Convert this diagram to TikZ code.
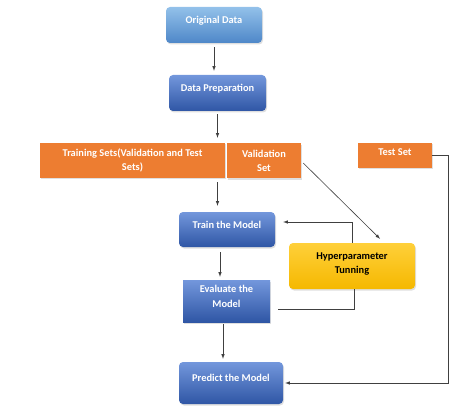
\documentclass[tikz,border=0pt]{standalone}
\usepackage{fontspec}
\setmainfont{Carlito}
\usetikzlibrary{shadows}

\definecolor{lightTop}{HTML}{93C1EA}
\definecolor{lightBot}{HTML}{4E87C8}
\definecolor{blueTop}{HTML}{7397DC}
\definecolor{blueBot}{HTML}{2F56A5}
\definecolor{orangeFill}{HTML}{ED7D31}
\definecolor{yellowTop}{HTML}{FFD03A}
\definecolor{yellowBot}{HTML}{F5B800}
\definecolor{lineGray}{HTML}{404040}

\begin{document}
\begin{tikzpicture}[x=1pt,y=-1pt,
	box/.style={inner sep=0pt, align=center, font=\bfseries\fontsize{10.4}{14.5}\selectfont,
		drop shadow={shadow xshift=1pt, shadow yshift=-1.5pt, opacity=0.25}},
	bluebox/.style={box, rounded corners=4pt, top color=blueTop, bottom color=blueBot, text=white},
	orangebox/.style={box, fill=orangeFill, text=white},
	yellowbox/.style={box, rounded corners=4pt, top color=yellowTop, bottom color=yellowBot, text=black},
	lift/.style={text depth=#1},
	link/.style={draw=lineGray, line width=0.6pt},
	arrow/.style={link, -latex}]

	% Frame
	\useasboundingbox (0,0) rectangle (474,417);

	% Top boxes
	\node[bluebox, top color=lightTop, bottom color=lightBot, lift=10pt, minimum width=96pt, minimum height=36pt] (orig) at (214,25) {Original Data};
	\node[bluebox, lift=10pt, minimum width=97pt, minimum height=36pt] (prep) at (217.5,93) {Data Preparation};

	% Split sets
	\node[orangebox, minimum width=185pt, minimum height=35pt] (trainset) at (132.5,160.5) {Training Sets(Validation and Test\\Sets)};
	\node[orangebox, minimum width=74pt, minimum height=35pt] (valset) at (264,161) {Validation\\Set};
	\node[orangebox, lift=7pt, minimum width=74pt, minimum height=25pt] (testset) at (395,155.5) {Test Set};

	% Model boxes
	\node[bluebox, lift=9pt, minimum width=96pt, minimum height=35pt] (trainm) at (227,229.5) {Train the Model};
	\node[bluebox, rounded corners=0pt, lift=9pt, minimum width=87pt, minimum height=42pt] (evalm) at (226.5,301) {Evaluate the\\Model};
	\node[bluebox, lift=10pt, minimum width=104pt, minimum height=42pt] (predm) at (231,383) {Predict the Model};
	\node[yellowbox, lift=6pt, minimum width=126pt, minimum height=46pt] (hyper) at (352,266) {Hyperparameter\\Tunning};

	% Main flow
	\draw[arrow, shorten <=4pt, shorten >=4pt] (orig.south) -- (orig.south |- prep.north);
	\draw[arrow, shorten <=3pt, shorten >=5pt] (prep.south) -- (prep.south |- trainset.north);
	\draw[arrow, shorten <=4pt, shorten >=6pt] (prep.south |- trainset.south) -- (prep.south |- trainm.north);
	\draw[arrow, shorten <=5pt, shorten >=3pt] ([xshift=-7pt]trainm.south) -- ([xshift=-7pt]trainm.south |- evalm.north);
	\draw[arrow, shorten <=2pt, shorten >=3pt] ([xshift=-3.5pt]evalm.south) -- ([xshift=-3.5pt]evalm.south |- predm.north);

	% Tuning loop
	\draw[arrow, shorten <=3pt] (valset.east) -- ([xshift=28pt,yshift=4pt]hyper.north);
	\draw[arrow, shorten >=8pt] (hyper.north) |- ([yshift=7.5pt]trainm.east);
	\draw[link, shorten <=8pt] ([yshift=-8pt]evalm.east) -| ([xshift=2pt]hyper.south);

	% Test set to prediction
	\coordinate (testturn) at (448,155.5);
	\draw[arrow, shorten >=2pt] (testset.east) -- (testturn) |- (predm.east);

\end{tikzpicture}
\end{document}
